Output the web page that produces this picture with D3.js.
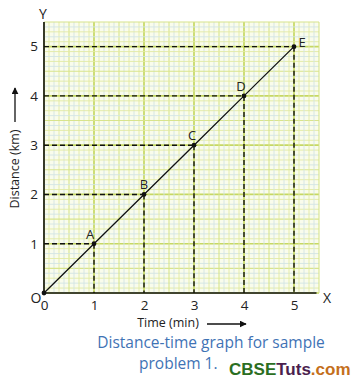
<!DOCTYPE html>
<html><head><meta charset="utf-8">
<script src="https://cdn.jsdelivr.net/npm/d3@7"></script>
<style>html,body{margin:0;padding:0;background:#fff;}svg{display:block;}</style>
</head><body>
<svg id="c" width="355" height="383"></svg>
<script>
const times = [0, 1, 2, 3, 4, 5];
const distances = [0, 1, 2, 3, 4, 5];
const pointLabels = ["O", "A", "B", "C", "D", "E"];
const xTicks = [0, 1, 2, 3, 4, 5];
const yTicks = [1, 2, 3, 4, 5];

const svg = d3.select("#c");
const font = "'Open Sans', 'Noto Sans', sans-serif";
const x = d3.scaleLinear().domain([0, 5.5]).range([44, 319]);
const y = d3.scaleLinear().domain([0, 5.5]).range([293, 22]);

// graph paper
svg.append("rect").attr("x", x(0)).attr("y", y(5.5)).attr("width", x(5.5) - x(0)).attr("height", y(0) - y(5.5)).attr("fill", "#f9fcec");
const minor = d3.range(0, 56).map(i => i / 10);
const g = svg.append("g");
minor.forEach((v, i) => {
  const isMajor = i % 10 === 0;
  const isHalf = i % 5 === 0 && !isMajor;
  const col = isMajor ? "#c6d862" : isHalf ? "#d8e48c" : (i % 2 ? "#e2eaa4" : "#d3e4e4");
  const w = isMajor ? 1.7 : isHalf ? 1.1 : 0.9;
  g.append("line").attr("x1", x(v)).attr("x2", x(v)).attr("y1", y(0)).attr("y2", y(5.5)).attr("stroke", col).attr("stroke-width", w);
  g.append("line").attr("y1", y(v)).attr("y2", y(v)).attr("x1", x(0)).attr("x2", x(5.5)).attr("stroke", col).attr("stroke-width", w);
});

// dashed guides
const pts = times.map((t, i) => ({t, d: distances[i], l: pointLabels[i]}));
pts.slice(1).forEach(p => {
  svg.append("line").attr("x1", x(0)).attr("x2", x(p.t)).attr("y1", y(p.d)).attr("y2", y(p.d))
    .attr("stroke", "#111").attr("stroke-width", 1.4).attr("stroke-dasharray", "5,3");
  svg.append("line").attr("x1", x(p.t)).attr("x2", x(p.t)).attr("y1", y(p.d)).attr("y2", y(0))
    .attr("stroke", "#111").attr("stroke-width", 1.4).attr("stroke-dasharray", "5,3");
});

// axes
const xAxis = d3.axisBottom(x).tickValues(xTicks).tickSize(0).tickFormat(d3.format("d"));
const xa = svg.append("g").attr("transform", `translate(0,${y(0)})`).call(xAxis);
xa.select(".domain").remove();
xa.selectAll("text").attr("font-family", font).attr("font-size", 13.5).attr("fill", "#222").attr("dy", "1.0em");
const yAxis = d3.axisLeft(y).tickValues(yTicks).tickSize(0).tickFormat(d3.format("d"));
const ya = svg.append("g").attr("transform", `translate(${x(0)},0)`).call(yAxis);
ya.select(".domain").remove();
ya.selectAll("text").attr("font-family", font).attr("font-size", 13.5).attr("fill", "#222").attr("x", -6);

svg.append("line").attr("x1", x(0)).attr("x2", x(5.45)).attr("y1", y(0)).attr("y2", y(0)).attr("stroke", "#111").attr("stroke-width", 1.6);
svg.append("line").attr("x1", x(0)).attr("x2", x(0)).attr("y1", y(0)).attr("y2", y(5.5)).attr("stroke", "#111").attr("stroke-width", 1.6);

// line
svg.append("path").datum(pts).attr("fill", "none").attr("stroke", "#111").attr("stroke-width", 1.3)
  .attr("d", d3.line().x(d => x(d.t)).y(d => y(d.d)));
svg.selectAll("circle.p").data(pts).enter().append("circle").attr("class", "p")
  .attr("cx", d => x(d.t)).attr("cy", d => y(d.d)).attr("r", 2.4).attr("fill", "#111");

// point labels
const lblOff = {A: [-4, -5], B: [0, -5], C: [-2, -5], D: [-3, -5], E: [8, 0]};
pts.slice(1).forEach(p => {
  const o = lblOff[p.l];
  svg.append("text").attr("x", x(p.t) + o[0]).attr("y", y(p.d) + o[1]).attr("text-anchor", "middle")
    .attr("font-family", font).attr("font-size", 13).attr("fill", "#222").text(p.l);
});
svg.append("text").attr("x", x(0) - 8).attr("y", y(0) + 10).attr("text-anchor", "middle").attr("font-family", font).attr("font-size", 14).attr("fill", "#222").text("O");

// axis letters
svg.append("text").attr("x", x(0) - 1).attr("y", 19).attr("text-anchor", "middle").attr("font-family", font).attr("font-size", 14).attr("fill", "#222").text("Y");
svg.append("text").attr("x", 327).attr("y", y(0) + 10).attr("text-anchor", "middle").attr("font-family", font).attr("font-size", 14).attr("fill", "#222").text("X");

// axis titles with arrows
svg.append("defs").append("marker").attr("id", "ah").attr("viewBox", "0 0 10 10").attr("refX", 9).attr("refY", 5)
  .attr("markerWidth", 7).attr("markerHeight", 7).attr("markerUnits", "userSpaceOnUse").attr("orient", "auto")
  .append("path").attr("d", "M0,0 L10,5 L0,10 Z").attr("fill", "#111");
svg.append("text").attr("transform", "translate(19,169) rotate(-90)").attr("text-anchor", "middle")
  .attr("font-family", font).attr("font-size", 12.5).attr("fill", "#222").text("Distance  (km)");
svg.append("line").attr("x1", 15).attr("x2", 15).attr("y1", 122).attr("y2", 88).attr("stroke", "#111").attr("stroke-width", 1.3).attr("marker-end", "url(#ah)");
svg.append("text").attr("x", 168).attr("y", 327).attr("text-anchor", "middle")
  .attr("font-family", font).attr("font-size", 12.5).attr("fill", "#222").text("Time  (min)");
svg.append("line").attr("x1", 207).attr("x2", 246).attr("y1", 324).attr("y2", 324).attr("stroke", "#111").attr("stroke-width", 1.3).attr("marker-end", "url(#ah)");

// caption
svg.append("text").attr("x", 211).attr("y", 348).attr("text-anchor", "middle")
  .attr("font-family", font).attr("font-size", 15.5).attr("fill", "#3f73b5").text("Distance-time graph for sample");
svg.append("text").attr("x", 139).attr("y", 369)
  .attr("font-family", font).attr("font-size", 15.5).attr("fill", "#3f73b5").text("problem 1.");
const wm = svg.append("text").attr("x", 229).attr("y", 375).attr("font-family", "'Liberation Sans', Arial, sans-serif").attr("font-size", 17).attr("font-weight", "bold");
wm.append("tspan").attr("fill", "#2b6e22").text("CBSE");
wm.append("tspan").attr("fill", "#4b1f4e").text("Tuts");
wm.append("tspan").attr("fill", "#c46f1c").text(".com");
</script>
</body></html>
